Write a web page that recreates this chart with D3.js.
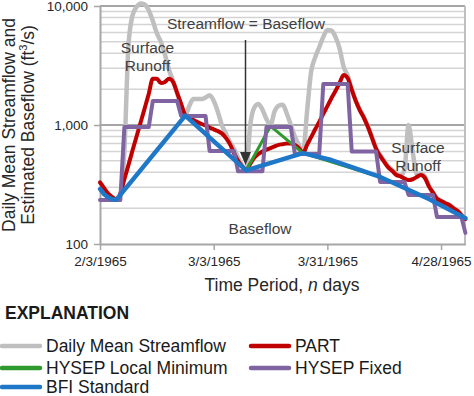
<!DOCTYPE html>
<html><head><meta charset="utf-8">
<script src="https://cdn.jsdelivr.net/npm/d3@7"></script>
<style>body{margin:0;background:#fff}svg{display:block;font-family:"Liberation Sans",Arial,sans-serif}</style>
</head><body><svg id="c" width="474" height="396"></svg>
<script>
// ---- data ----
const tickDays = [0, 28, 56, 84];
const tickLabels = ["2/3/1965", "3/3/1965", "3/31/1965", "4/28/1965"];
const yTicks = [100, 1000, 10000];

// daily mean streamflow, day 0 (2/3/1965) .. day 90
const streamflow = [330,295,265,248,238,260,600,4600,8300,9800,10500,10300,9200,7500,5900,5000,3900,2900,2350,1850,1450,1200,
  1450,1650,1650,1650,1700,1780,1600,1300,1000,850,720,630,530,460,415,
  1000,1400,1500,1350,1120,1000,1300,1450,1480,1250,1000,800,680,580,
  1300,2800,3700,4500,5500,6300,6200,5500,4400,3100,2600,2000,1600,1350,1160,970,790,640,560,500,450,420,390,375,420,1000,600,390,390,370,
  310,272,242,232,222,214,202,192,177,164];
// PART
const partValues = [330,295,265,248,238,265,350,460,610,800,1050,1380,1820,2450,2450,2250,2300,2450,2300,1860,1500,1210,
  1140,1100,1060,1020,990,950,920,890,850,780,690,580,500,450,415,
  470,530,570,600,620,640,660,680,690,700,700,680,640,580,
  680,790,920,1060,1240,1440,1680,1930,2250,2630,2480,1980,1590,1330,1150,960,780,630,550,490,440,410,380,370,355,345,350,365,380,360,
  305,270,240,230,220,213,200,190,175,162];
// BFI Standard turning points
const bfiDays   = [0, 1, 2, 3, 4, 21, 36, 50, 57, 69, 81, 90];
const bfiValues = [290, 262, 247, 238, 235, 1200, 415, 580, 508, 366, 239, 165];
// HYSEP Local Minimum turning points
const localMinDays   = [0, 1, 2, 3, 4, 21, 36, 42, 50, 69, 81, 90];
const localMinValues = [290, 262, 247, 238, 235, 1200, 415, 980, 580, 366, 239, 165];
// HYSEP Fixed: interval start day and value
const fixedStarts = [0, 6, 13, 20, 27, 34, 41, 48, 55, 62, 69, 76, 83, 90];
const fixedValues = [234, 960, 1590, 1190, 605, 408, 960, 571, 2210, 600, 332, 258, 169, 124];

const seriesNames  = ["Daily Mean Streamflow", "PART", "HYSEP Local Minimum", "HYSEP Fixed", "BFI Standard"];
const seriesColors = ["#bfbfbf", "#c00000", "#2e9a2e", "#8064a2", "#1f77c8"];

// ---- build tables ----
const streamPts = streamflow.map((v, i) => [i, v]);
const partPts = partValues.map((v, i) => [i, v]);
const bfiPts = bfiDays.map((d, i) => [d, bfiValues[i]]);
const localPts = localMinDays.map((d, i) => [d, localMinValues[i]]);
const fixedPts = [];
fixedStarts.forEach((s, i) => {
  const end = i < fixedStarts.length - 1 ? fixedStarts[i + 1] - 1 : s;
  fixedPts.push([s, fixedValues[i]]);
  if (end > s) fixedPts.push([end, fixedValues[i]]);
});

// ---- chart ----
const svg = d3.select("#c");
svg.append("rect").attr("width", 474).attr("height", 396).attr("fill", "#fff");
const x = d3.scaleLinear().domain([0, 90]).range([100, 465.4]);
const y = d3.scaleLog().domain([100, 10000]).range([244, 6]);

const grid = svg.append("g");
grid.selectAll("line.minor").data(y.ticks().filter(v => !yTicks.includes(v))).join("line")
  .attr("x1", 100).attr("x2", 465).attr("y1", d => y(d)).attr("y2", d => y(d))
  .attr("stroke", "#d4d4d4").attr("stroke-width", 1.5);
grid.selectAll("line.major").data(yTicks.slice(1)).join("line")
  .attr("x1", 100).attr("x2", 465).attr("y1", d => y(d)).attr("y2", d => y(d))
  .attr("stroke", "#a6a6a6").attr("stroke-width", 2);
grid.append("line").attr("x1", 465).attr("x2", 465).attr("y1", y(10000)).attr("y2", y(100))
  .attr("stroke", "#bfbfbf").attr("stroke-width", 2);

const yAxis = svg.append("g").attr("transform", "translate(100,0)")
  .call(d3.axisLeft(y).tickValues(yTicks).tickFormat(d3.format(",")).tickSize(6).tickSizeOuter(0).tickPadding(6));
const xAxis = svg.append("g").attr("transform", "translate(0,244)")
  .call(d3.axisBottom(x).tickValues(tickDays).tickFormat((d, i) => tickLabels[i]).tickSize(6).tickSizeOuter(0).tickPadding(6));
[yAxis, xAxis].forEach(a => {
  a.select(".domain").attr("stroke", "#a6a6a6").attr("stroke-width", 2);
  a.selectAll(".tick line").attr("stroke", "#a6a6a6").attr("stroke-width", 1.5);
  a.selectAll(".tick text").attr("font-size", "13.5px").attr("fill", "#262626")
    .attr("font-family", "Liberation Sans, Arial, sans-serif");
});

// series
const smooth = d3.line().x(d => x(d[0])).y(d => y(d[1])).curve(d3.curveMonotoneX);
const straight = d3.line().x(d => x(d[0])).y(d => y(d[1]));
const plot = svg.append("g").attr("fill", "none").attr("stroke-linejoin", "round").attr("stroke-linecap", "round");
plot.append("path").attr("d", smooth(streamPts)).attr("stroke", seriesColors[0]).attr("stroke-width", 4.5);
plot.append("path").attr("d", smooth(partPts)).attr("stroke", seriesColors[1]).attr("stroke-width", 4);
plot.append("path").attr("d", straight(localPts)).attr("stroke", seriesColors[2]).attr("stroke-width", 3);
plot.append("path").attr("d", straight(fixedPts)).attr("stroke", seriesColors[3]).attr("stroke-width", 4);
plot.append("path").attr("d", straight(bfiPts)).attr("stroke", seriesColors[4]).attr("stroke-width", 4.5);

// annotations
const ann = svg.append("g").attr("font-size", "15.5px").attr("fill", "#404040").attr("text-anchor", "middle");
ann.append("text").attr("x", 246).attr("y", 29).text("Streamflow = Baseflow");
ann.append("text").attr("x", 147.5).attr("y", 52.5).text("Surface");
ann.append("text").attr("x", 147.5).attr("y", 70.5).text("Runoff");
ann.append("text").attr("x", 418).attr("y", 152.5).text("Surface");
ann.append("text").attr("x", 418).attr("y", 170.5).text("Runoff");
ann.append("text").attr("x", 260).attr("y", 233.5).text("Baseflow");
svg.append("line").attr("x1", 245.5).attr("x2", 245.5).attr("y1", 40).attr("y2", 153)
  .attr("stroke", "#333").attr("stroke-width", 1.5);
svg.append("path").attr("d", "M240,152L251,152L245.5,165Z").attr("fill", "#333");

// axis titles
const yt = svg.append("g").attr("font-size", "17.5px").attr("fill", "#262626").attr("text-anchor", "middle");
yt.append("text").attr("transform", "translate(15,125) rotate(-90)").text("Daily Mean Streamflow and");
const yt2 = yt.append("text").attr("transform", "translate(34,125) rotate(-90)");
yt2.append("tspan").text("Estimated Baseflow (ft");
yt2.append("tspan").attr("font-size", "11px").attr("dy", -7).text("3");
yt2.append("tspan").attr("dy", 7).text("/s)");
const xt = svg.append("text").attr("x", 282).attr("y", 291).attr("font-size", "17.5px").attr("fill", "#262626").attr("text-anchor", "middle");
xt.append("tspan").text("Time Period, ");
xt.append("tspan").attr("font-style", "italic").text("n");
xt.append("tspan").text(" days");

// legend
svg.append("text").attr("x", 5).attr("y", 319).attr("font-size", "17.5px").attr("font-weight", "bold")
  .attr("fill", "#1a1a1a").text("EXPLANATION");
const legendPos = [[0, 346], [249, 346], [0, 368], [249, 368], [0, 387]];
const lg = svg.append("g");
seriesNames.forEach((n, i) => {
  const [lx, ly] = legendPos[i];
  lg.append("line").attr("x1", lx + 2).attr("x2", lx + 40).attr("y1", ly).attr("y2", ly)
    .attr("stroke", seriesColors[i]).attr("stroke-width", 4.5).attr("stroke-linecap", "round");
  lg.append("text").attr("x", lx + 46).attr("y", ly + 6).attr("font-size", "17.5px").attr("fill", "#1a1a1a").text(n);
});
</script></body></html>
